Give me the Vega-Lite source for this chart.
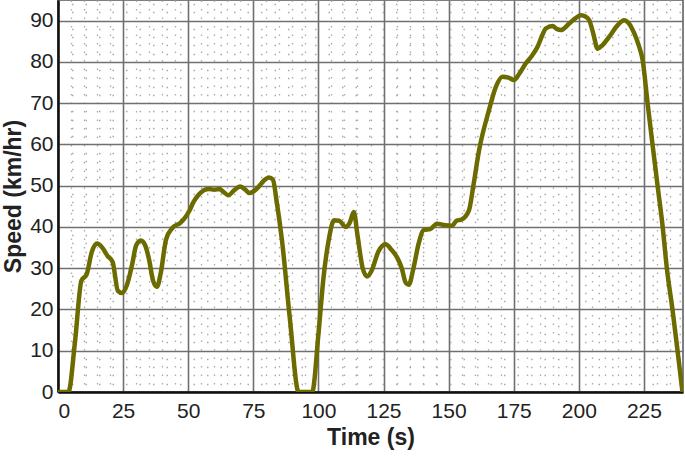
{
  "$schema": "https://vega.github.io/schema/vega-lite/v6.json",
  "width": 625,
  "height": 392,
  "autosize": {"type": "none"},
  "padding": {"left": 58, "top": 0, "right": 2, "bottom": 66},
  "background": "white",
  "config": {
    "view": {"stroke": "#555", "strokeWidth": 1.5},
    "axis": {
      "labelFont": "Liberation Sans",
      "titleFont": "Liberation Sans",
      "labelFontSize": 21,
      "titleFontSize": 23,
      "titleFontWeight": "bold",
      "labelColor": "#222",
      "titleColor": "#222"
    }
  },
  "data": {
    "values": [
      {"t": 0, "v": 0}, {"t": 4, "v": 0}, {"t": 6.5, "v": 12}, {"t": 9, "v": 27},
      {"t": 11, "v": 28.5}, {"t": 13, "v": 34}, {"t": 15, "v": 36}, {"t": 17, "v": 35},
      {"t": 19, "v": 33}, {"t": 21, "v": 31.5}, {"t": 23, "v": 24.5}, {"t": 24.5, "v": 24},
      {"t": 26.5, "v": 26}, {"t": 28.5, "v": 31}, {"t": 30, "v": 35.5}, {"t": 31.8, "v": 36.7},
      {"t": 33.5, "v": 35.5}, {"t": 35, "v": 32}, {"t": 36.5, "v": 27}, {"t": 38, "v": 25.5},
      {"t": 39.5, "v": 29}, {"t": 41.5, "v": 37}, {"t": 44, "v": 39.8}, {"t": 47, "v": 41},
      {"t": 48.5, "v": 42}, {"t": 50.5, "v": 44}, {"t": 52, "v": 46}, {"t": 54, "v": 47.8},
      {"t": 56, "v": 48.9}, {"t": 58, "v": 49.2}, {"t": 60, "v": 49}, {"t": 62, "v": 49.2},
      {"t": 63.5, "v": 48.5}, {"t": 65.5, "v": 47.7}, {"t": 67.5, "v": 48.8}, {"t": 70, "v": 49.8},
      {"t": 72, "v": 49}, {"t": 73.5, "v": 48.2}, {"t": 75.5, "v": 48.8}, {"t": 77, "v": 49.7},
      {"t": 79, "v": 51.2}, {"t": 81, "v": 52}, {"t": 82.5, "v": 51.5}, {"t": 84, "v": 46},
      {"t": 86, "v": 36.8}, {"t": 89, "v": 18}, {"t": 92.4, "v": 0}, {"t": 97.6, "v": 0},
      {"t": 100, "v": 14}, {"t": 102, "v": 28}, {"t": 104, "v": 37}, {"t": 106, "v": 41.6},
      {"t": 108, "v": 41.5}, {"t": 110.4, "v": 40}, {"t": 112, "v": 41}, {"t": 113.6, "v": 43.6},
      {"t": 115, "v": 38}, {"t": 117, "v": 30}, {"t": 118.7, "v": 28}, {"t": 120.5, "v": 29.5},
      {"t": 123, "v": 34}, {"t": 125.8, "v": 35.8}, {"t": 128, "v": 34.5}, {"t": 130.3, "v": 32.5},
      {"t": 132, "v": 30}, {"t": 133.5, "v": 26.5}, {"t": 134.7, "v": 26}, {"t": 136.5, "v": 30},
      {"t": 138.5, "v": 36}, {"t": 140.5, "v": 39.3}, {"t": 143, "v": 39.5}, {"t": 145.6, "v": 40.8},
      {"t": 148, "v": 40.5}, {"t": 151.4, "v": 40.3}, {"t": 153, "v": 41.5}, {"t": 155, "v": 41.8},
      {"t": 157.8, "v": 44}, {"t": 159.5, "v": 50}, {"t": 161.7, "v": 58.6}, {"t": 165.5, "v": 68.3},
      {"t": 168.1, "v": 73.9}, {"t": 170.7, "v": 76.4}, {"t": 173, "v": 76.2}, {"t": 175.1, "v": 75.6},
      {"t": 177, "v": 77}, {"t": 179.6, "v": 79.6}, {"t": 182, "v": 81.5}, {"t": 184.1, "v": 83.6},
      {"t": 186, "v": 86.5}, {"t": 187.3, "v": 88.1}, {"t": 189.9, "v": 88.7}, {"t": 191.5, "v": 88},
      {"t": 193.1, "v": 87.7}, {"t": 196.3, "v": 89.3}, {"t": 198.5, "v": 90.5}, {"t": 200.8, "v": 91.3},
      {"t": 202.5, "v": 91}, {"t": 204, "v": 90.1}, {"t": 205.5, "v": 87}, {"t": 207.2, "v": 83.2},
      {"t": 209, "v": 84}, {"t": 211.7, "v": 86.1}, {"t": 214.9, "v": 88.9}, {"t": 217.4, "v": 90.1},
      {"t": 219, "v": 89.5}, {"t": 221.3, "v": 86.9}, {"t": 223, "v": 84}, {"t": 224.5, "v": 80.4},
      {"t": 226.4, "v": 70}, {"t": 228.3, "v": 60}, {"t": 230.3, "v": 49.7}, {"t": 232.2, "v": 40},
      {"t": 233.8, "v": 30}, {"t": 236, "v": 19.8}, {"t": 238, "v": 9.5}, {"t": 239.8, "v": 0}
    ]
  },
  "resolve": {"axis": {"x": "independent", "y": "independent"}},
  "layer": [
    {
      "mark": {"type": "line", "strokeOpacity": 0},
      "encoding": {
        "x": {
          "field": "t", "type": "quantitative",
          "scale": {"domain": [0, 240], "nice": false, "zero": false},
          "axis": {
            "orient": "bottom", "values": [5, 10, 15, 20, 30, 35, 40, 45, 55, 60, 65, 70, 80, 85, 90, 95, 105, 110, 115, 120, 130, 135, 140, 145, 155, 160, 165, 170, 180, 185, 190, 195, 205, 210, 215, 220, 230, 235],
            "grid": true, "gridColor": "#aaa", "gridDash": [1.5, 7], "gridWidth": 1.3,
            "labels": false, "ticks": false, "domain": false, "title": null
          }
        },
        "y": {
          "field": "v", "type": "quantitative",
          "scale": {"domain": [0, 95], "nice": false},
          "axis": {
            "orient": "left", "values": [2, 4, 6, 8, 12, 14, 16, 18, 22, 24, 26, 28, 32, 34, 36, 38, 42, 44, 46, 48, 52, 54, 56, 58, 62, 64, 66, 68, 72, 74, 76, 78, 82, 84, 86, 88, 92, 94],
            "grid": true, "gridColor": "#aaa", "gridDash": [1.5, 12], "gridWidth": 1.3,
            "labels": false, "ticks": false, "domain": false, "title": null
          }
        }
      }
    },
    {
      "mark": {"type": "line", "color": "#6b6b00", "strokeWidth": 4.5, "strokeJoin": "round", "strokeCap": "round", "interpolate": "monotone", "clip": true},
      "encoding": {
        "x": {
          "field": "t", "type": "quantitative",
          "scale": {"domain": [0, 240], "nice": false, "zero": false},
          "axis": {
            "orient": "bottom", "values": [0, 25, 50, 75, 100, 125, 150, 175, 200, 225],
            "grid": true, "gridColor": "#707070", "gridWidth": 1.6,
            "domainColor": "#111", "domainWidth": 2.5,
            "ticks": false, "labelPadding": 8, "title": "Time (s)", "titlePadding": 5
          }
        },
        "y": {
          "field": "v", "type": "quantitative",
          "scale": {"domain": [0, 95], "nice": false},
          "axis": {
            "orient": "left", "values": [0, 10, 20, 30, 40, 50, 60, 70, 80, 90],
            "grid": true, "gridColor": "#707070", "gridWidth": 1.6,
            "domainColor": "#111", "domainWidth": 2.5,
            "ticks": false, "labelPadding": 5, "title": "Speed (km/hr)", "titlePadding": 4
          }
        }
      }
    }
  ]
}
